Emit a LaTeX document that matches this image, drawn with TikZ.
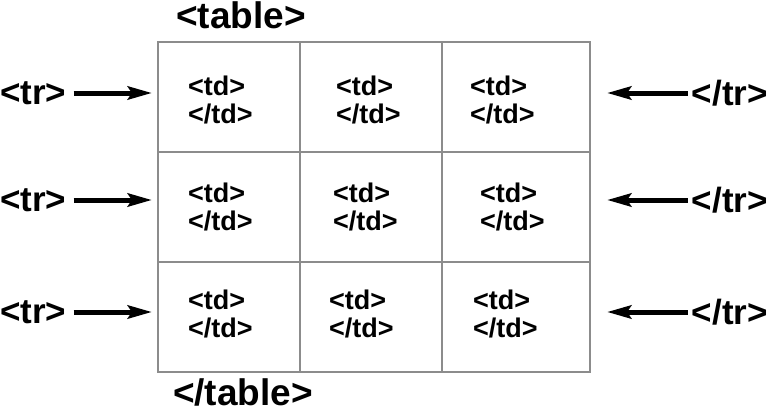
\documentclass[tikz,border=0pt]{standalone}
\usepackage{fontspec}
\setmainfont{Liberation Sans}
\usetikzlibrary{arrows.meta}
\tikzset{tag/.style = {font=\fontsize{35}{35}\selectfont\bfseries, inner sep=0}}
\tikzset{tbltag/.style = {font=\fontsize{37}{37}\selectfont\bfseries, inner sep=0}}
\tikzset{cell/.style = {font=\fontsize{27}{28}\selectfont\bfseries, align=left, inner sep=0, anchor=west}}
\tikzset{rowarrow/.style = {line width=5, -{Stealth[length=24, width=13, inset=4]}}}
\definecolor{gridgray}{rgb}{0.55, 0.55, 0.55}

\begin{document}
\begin{tikzpicture}[x=1pt, y=-1pt]
      \useasboundingbox (0, 0) rectangle (768, 415);

      % the table grid
      \draw [gridgray, line width=2] (158, 42) rectangle (590, 372);
      \draw [gridgray, line width=2] (300, 42) -- (300, 372);
      \draw [gridgray, line width=2] (442, 42) -- (442, 372);
      \draw [gridgray, line width=2] (158, 152) -- (590, 152);
      \draw [gridgray, line width=2] (158, 262) -- (590, 262);

      \node [tbltag] (tblopen) at (241, 15) {<table>};
      \node [tbltag, anchor=base] (tblclose) at (243, 405) {</table>};

      % cells
      \node [cell] (c11) at (188, 100) {<td>\\</td>};
      \node [cell] (c12) at (336, 100) {<td>\\</td>};
      \node [cell] (c13) at (470, 100) {<td>\\</td>};
      \node [cell] (c21) at (188, 207) {<td>\\</td>};
      \node [cell] (c22) at (333, 207) {<td>\\</td>};
      \node [cell] (c23) at (480, 207) {<td>\\</td>};
      \node [cell] (c31) at (188, 314) {<td>\\</td>};
      \node [cell] (c32) at (329, 314) {<td>\\</td>};
      \node [cell] (c33) at (473, 314) {<td>\\</td>};

      % row tags
      \node [tag, anchor=west] (trL1) at (0, 93) {<tr>};
      \node [tag, anchor=west] (trL2) at (0, 200) {<tr>};
      \node [tag, anchor=west] (trL3) at (0, 312) {<tr>};
      \node [tag, anchor=east] (trR1) at (768, 93) {</tr>};
      \node [tag, anchor=east] (trR2) at (768, 200) {</tr>};
      \node [tag, anchor=east] (trR3) at (768, 312) {</tr>};

      \coordinate (inL1) at (152, 93);
      \coordinate (inL2) at (152, 200);
      \coordinate (inL3) at (152, 312);
      \coordinate (inR1) at (607, 93);
      \coordinate (inR2) at (607, 200);
      \coordinate (inR3) at (607, 312);

      \draw [rowarrow, shorten <=7] (trL1) -- (inL1);
      \draw [rowarrow, shorten <=7] (trL2) -- (inL2);
      \draw [rowarrow, shorten <=7] (trL3) -- (inL3);
      \draw [rowarrow, shorten <=4] (trR1) -- (inR1);
      \draw [rowarrow, shorten <=4] (trR2) -- (inR2);
      \draw [rowarrow, shorten <=4] (trR3) -- (inR3);
    \end{tikzpicture}
\end{document}
